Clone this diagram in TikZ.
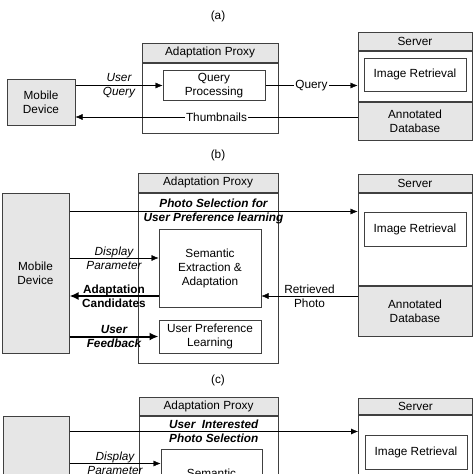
\documentclass[tikz,border=0pt]{standalone}
\usepackage{fontspec}
\setmainfont{Liberation Sans}
\usetikzlibrary{arrows.meta,calc}
\definecolor{framegray}{RGB}{64,64,64}
\definecolor{fillgray}{RGB}{230,230,230}

\begin{document}
\fontsize{11.8}{14}\selectfont
\begin{tikzpicture}[x=1pt,y=-1pt,>={Latex[length=7pt,width=6pt]},
  box/.style={draw=framegray,line width=1pt,rectangle,inner sep=0pt,align=center},
  head/.style={box,fill=fillgray},
  lbl/.style={align=center,inner sep=1pt},
  strong/.style={line width=2pt,-{Latex[length=9pt,width=8pt]}}]
  \useasboundingbox (0,0) rectangle (474,474);
  \clip (0,0) rectangle (474,474);

  % (a)
  \node (capA) at (218,16) {(a)};
  \node[head,minimum width=68pt,minimum height=46pt] (mobA) at (41,102) {Mobile\\Device};
  \node[head,minimum width=136pt,minimum height=19pt] (pxhA) at (210,52.5) {Adaptation Proxy};
  \node[box,minimum width=136pt,minimum height=70pt,anchor=north] (pxA) at (pxhA.south) {};
  \node[box,minimum width=102pt,minimum height=30pt] (qpA) at (214,85.5) {Query\\Processing};
  \node[head,minimum width=114pt,minimum height=18pt] (svhA) at (415,41) {Server};
  \node[box,minimum width=114pt,minimum height=50pt,anchor=north] (svA) at (svhA.south) {};
  \node[box,minimum width=102pt,minimum height=33pt] (irA) at (415,74.5) {Image Retrieval};
  \node[head,minimum width=114pt,minimum height=38pt,anchor=north] (dbA) at (svA.south) {Annotated\\Database};

  \draw[->] (mobA.east |- qpA.west) -- node[lbl,font=\itshape] {User\\Query} (qpA.west);
  \draw[->] (qpA.east) -- node[lbl,fill=white] {Query} (qpA.east -| svA.west);
  \coordinate (thA) at ([yshift=4pt]dbA.west);
  \draw[->] (thA) -- node[lbl,fill=white] {Thumbnails} (thA -| mobA.east);

  % (b)
  \node (capB) at (218,155) {(b)};
  \node[head,minimum width=67pt,minimum height=160pt] (mobB) at (35.5,273) {Mobile\\Device};
  \node[head,minimum width=140pt,minimum height=19pt] (pxhB) at (208,182.5) {Adaptation Proxy};
  \node[box,minimum width=140pt,minimum height=170pt,anchor=north] (pxB) at (pxhB.south) {};
  \node[box,minimum width=102pt,minimum height=78pt] (semB) at (210,268) {Semantic\\Extraction \&\\Adaptation};
  \node[box,minimum width=102pt,minimum height=33pt] (uplB) at (210,336.5) {User Preference\\Learning};
  \node[head,minimum width=114pt,minimum height=18pt] (svhB) at (415,183) {Server};
  \node[box,minimum width=114pt,minimum height=92pt,anchor=north] (svB) at (svhB.south) {};
  \node[box,minimum width=102pt,minimum height=34pt] (irB) at (415,229) {Image Retrieval};
  \node[head,minimum width=114pt,minimum height=50pt,anchor=north] (dbB) at (svB.south) {Annotated\\Database};

  \draw[->] (mobB.east |- irB.north) -- node[lbl,font=\bfseries\itshape]
       {Photo Selection for\\User Preference learning} (svB.west |- irB.north);
  \coordinate (dpB) at ([yshift=10pt]semB.west);
  \draw[->] (dpB -| mobB.east) -- node[lbl,font=\itshape] {Display\\Parameter} (dpB);
  \coordinate (acB) at ([yshift=-28pt]semB.west);
  \draw[strong] (acB) -- node[lbl,font=\bfseries] {Adaptation\\Candidates} (acB -| mobB.east);
  \draw[->] (acB -| dbB.west) -- node[lbl] {Retrieved\\Photo} (acB -| semB.east);
  \draw[strong] (mobB.east |- uplB.west) -- node[lbl,font=\bfseries\itshape] {User\\Feedback} (uplB.west);

  % (c)
  \node (capC) at (218,380) {(c)};
  \node[head,minimum width=66pt,minimum height=160pt] (mobC) at (36,496) {};
  \node[head,minimum width=139pt,minimum height=18pt] (pxhC) at (208.5,406) {Adaptation Proxy};
  \node[box,minimum width=139pt,minimum height=170pt,anchor=north] (pxC) at (pxhC.south) {};
  \node[box,minimum width=101pt,minimum height=78pt] (semC) at (211.5,488) {Semantic\\Extraction \&\\Adaptation};
  \node[head,minimum width=114pt,minimum height=16pt] (svhC) at (415.5,406) {Server};
  \node[box,minimum width=114pt,minimum height=92pt,anchor=north] (svC) at (svhC.south) {};
  \node[box,minimum width=102pt,minimum height=34pt] (irC) at (416,452) {Image Retrieval};

  \coordinate (psC) at ([yshift=3pt]irC.north);
  \draw[->] (psC -| mobC.east) -- node[lbl,font=\bfseries\itshape]
       {User\ \ Interested\\Photo Selection} (psC -| svC.west);
  \coordinate (dpC) at ([yshift=-15pt]semC.north west);
  \draw[->] (dpC -| mobC.east) -- node[lbl,font=\itshape] {Display\\Parameter} (dpC);
\end{tikzpicture}
\end{document}
